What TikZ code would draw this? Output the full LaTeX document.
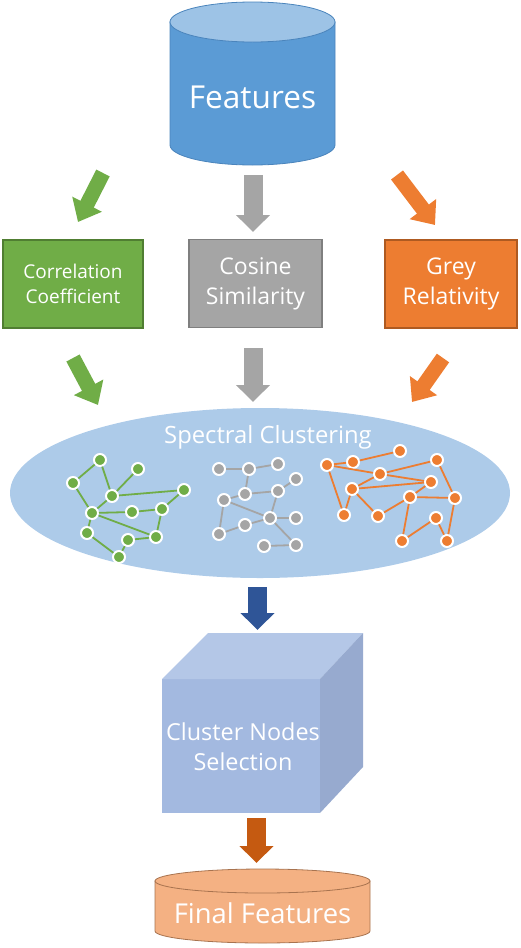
\documentclass[tikz,border=0pt]{standalone}
\usepackage{fontspec}
\setmainfont{Open Sans}
\usetikzlibrary{arrows.meta,shapes.geometric}

\definecolor{featblue}{HTML}{5B9BD5}
\definecolor{featcap}{HTML}{9DC3E6}
\definecolor{featedge}{HTML}{4A84BC}
\definecolor{corgreen}{HTML}{70AD47}
\definecolor{corgreenedge}{HTML}{507E32}
\definecolor{cosgrey}{HTML}{A5A5A5}
\definecolor{cosgreyedge}{HTML}{7F7F7F}
\definecolor{relorange}{HTML}{ED7D31}
\definecolor{relorangeedge}{HTML}{AE5A21}
\definecolor{specblue}{HTML}{ADCBE9}
\definecolor{cubefront}{HTML}{A3B9E0}
\definecolor{cubetop}{HTML}{B4C7E7}
\definecolor{cuberight}{HTML}{97AACF}
\definecolor{selblue}{HTML}{2F5597}
\definecolor{finbrown}{HTML}{C55A11}
\definecolor{finpeach}{HTML}{F4B183}
\definecolor{finedge}{HTML}{A8734F}

\tikzset{
	fatarrow/.style={draw=#1, line width=9.5pt, -{Triangle[length=8.5pt,width=16.5pt]}},
	slantarrow/.style={draw=#1, line width=7.5pt, -{Triangle[length=10pt,width=16pt]}},
	method/.style={rectangle, draw=#1, line width=0.6pt, minimum width=66pt, minimum height=44pt, align=center, text=white},
	dot/.style={circle, fill=#1, draw=white, line width=1pt, minimum size=6pt, inner sep=0pt},
	link/.style={draw=#1, line width=0.9pt},
	whitetext/.style={text=white, align=center}
}

\begin{document}
\begin{tikzpicture}[x=0.5pt,y=-0.5pt]
	\useasboundingbox (0,0) rectangle (520,948);

	% features database
	\filldraw[fill=featblue, draw=featedge, line width=0.4pt] (170,22) -- (170,145) arc[start angle=180,end angle=0,x radius=82.5,y radius=20] -- (335,22) -- cycle;
	\filldraw[fill=featcap, draw=featedge, line width=0.4pt] (252.5,22) ellipse [x radius=82.5,y radius=20];
	\node[whitetext, font=\fontsize{15.8}{19}\selectfont] (feat) at (252.5,97) {Features};

	% three measures
	\node[method=corgreenedge, fill=corgreen, minimum width=70pt, font=\fontsize{9.5}{12.5}\selectfont] (cc) at (73,284) {Correlation\\Coefficient};
	\node[method=cosgreyedge, fill=cosgrey, minimum width=66.5pt, font=\fontsize{11.5}{15}\selectfont] (cs) at (255.5,283.5) {Cosine\\Similarity};
	\node[method=relorangeedge, fill=relorange, font=\fontsize{11.5}{15}\selectfont] (gr) at (451,284) {Grey\\Relativity};

	\coordinate (cc in) at (103,173);  \coordinate (cc tip) at (78,222);
	\coordinate (cs in) at (253,175);  \coordinate (cs tip) at (253,232);
	\coordinate (gr in) at (397,175);  \coordinate (gr tip) at (435,225);
	\coordinate (cc out) at (73,358);  \coordinate (cc end) at (98,405);
	\coordinate (cs out) at (253,348); \coordinate (cs end) at (253,402);
	\coordinate (gr out) at (443,358); \coordinate (gr end) at (412,402);
	\draw[slantarrow=corgreen] (cc in) -- (cc tip);
	\draw[fatarrow=cosgrey] (cs in) -- (cs tip);
	\draw[slantarrow=relorange] (gr in) -- (gr tip);
	\draw[slantarrow=corgreen] (cc out) -- (cc end);
	\draw[fatarrow=cosgrey] (cs out) -- (cs end);
	\draw[slantarrow=relorange] (gr out) -- (gr end);

	% spectral clustering
	\node[ellipse, fill=specblue, minimum width=250pt, minimum height=85pt] (spec) at (260,493) {};
	\node[whitetext, font=\fontsize{11.9}{14}\selectfont] (spec title) at (268,437) {Spectral Clustering};

	\foreach \n/\x/\y in {1/100/460, 2/138/469, 3/73/483, 4/112/496, 5/184/490, 6/92/513, 7/132/512, 8/162/509, 9/87/533, 10/156/537, 11/128/540, 12/119/557}
		\node[dot=corgreen] (g\n) at (\x,\y) {};
	\foreach \a/\b in {1/3, 1/4, 2/4, 4/5, 3/6, 4/6, 6/7, 7/8, 8/5, 8/10, 6/10, 6/9, 9/12, 11/10, 11/12}
		\draw[link=corgreen] (g\a) -- (g\b);

	\foreach \n/\x/\y in {1/219/469, 2/249/469, 3/278/464, 4/296/479, 5/245/494, 6/278/491, 7/224/500, 8/270/518, 9/296/518, 10/245/525, 11/219/534, 12/264/546, 13/296/545}
		\node[dot=cosgrey] (r\n) at (\x,\y) {};
	\foreach \a/\b in {1/2, 2/3, 2/5, 5/6, 6/4, 6/8, 7/8, 7/5, 7/11, 8/9, 8/10, 10/11, 8/13, 12/13}
		\draw[link=cosgrey] (r\a) -- (r\b);

	\foreach \n/\x/\y in {1/327/465, 2/353/462, 3/400/451, 4/437/460, 5/380/474, 6/431/482, 7/352/489, 8/410/497, 9/455/498, 10/344/515, 11/378/516, 12/436/518, 13/402/541, 14/447/541}
		\node[dot=relorange] (o\n) at (\x,\y) {};
	\foreach \a/\b in {1/2, 2/3, 1/5, 5/6, 5/4, 5/7, 7/6, 6/8, 7/11, 11/8, 8/9, 4/9, 9/14, 8/13, 13/12, 12/14, 1/10, 7/10}
		\draw[link=relorange] (o\a) -- (o\b);

	% selection cube
	\coordinate (sel in) at (257.5,587); \coordinate (sel tip) at (257.5,630);
	\draw[fatarrow=selblue] (sel in) -- (sel tip);
	\fill[cubefront] (162,679) rectangle (320,813);
	\fill[cubetop] (162,679) -- (208,633) -- (363,633) -- (320,679) -- cycle;
	\fill[cuberight] (320,679) -- (363,633) -- (363,767) -- (320,813) -- cycle;
	\node[whitetext, font=\fontsize{11.7}{15}\selectfont] (sel) at (243,747) {Cluster Nodes\\Selection};

	% final features
	\coordinate (fin in) at (256.5,818); \coordinate (fin tip) at (256.5,863);
	\draw[fatarrow=finbrown] (fin in) -- (fin tip);
	\filldraw[fill=finpeach, draw=finedge, line width=0.4pt] (155,881) -- (155,931) arc[start angle=180,end angle=0,x radius=107.5,y radius=12] -- (370,881) -- cycle;
	\filldraw[fill=finpeach, draw=finedge, line width=0.4pt] (262.5,881) ellipse [x radius=107.5,y radius=12];
	\node[whitetext, font=\fontsize{13.7}{16}\selectfont] (fin) at (262.5,913) {Final Features};
\end{tikzpicture}
\end{document}
